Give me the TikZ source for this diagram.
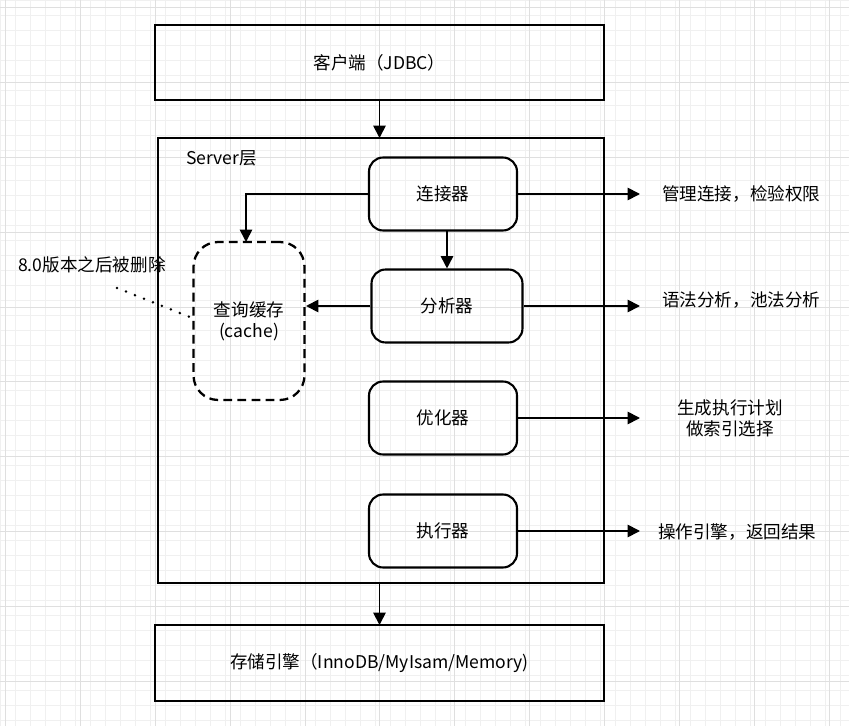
\documentclass[tikz,border=0pt]{standalone}
\usepackage{fontspec}
\setmainfont{Noto Sans CJK SC}
\usetikzlibrary{arrows.meta}
\begin{document}
\begin{tikzpicture}[x=0.02cm,y=-0.02cm,font=\fontsize{10}{12}\selectfont,
  stage/.style={draw,line width=1.2pt,rounded corners=8pt,inner sep=0pt},
  arr/.style={-{Triangle[length=7pt,width=7pt]},line width=1pt}]
  \useasboundingbox (0,0) rectangle (849,726);
  \draw[gray!12,line width=0.3pt] (0,0) grid[step=0.3cm] (849,726);
  \draw[gray!25,line width=0.5pt,shift={(5,7)}] (-5,-7) grid[step=1.5cm] (849,726);
  % outer boxes
  \draw[line width=1.6pt] (155,25) rectangle (604,100);
  \node (client) at (379.5,62.5) {客户端（JDBC）};
  \coordinate (clientS) at (379.5,100);
  \draw[line width=1.6pt] (158,138) rectangle (604,583);
  \coordinate (srvN) at (379.5,138);
  \coordinate (srvS) at (379.5,583);
  \node[anchor=west] (server) at (180,158) {Server层};
  \draw[line width=1.6pt] (155,625) rectangle (604,701);
  \node (engine) at (379.5,663) {存储引擎（InnoDB/MyIsam/Memory)};
  \coordinate (engN) at (379.5,625);
  \draw[arr] (clientS) -- (srvN);
  \draw[arr] (srvS) -- (engN);
  % stages
  \node[stage,minimum width=2.96cm,minimum height=1.46cm] (conn) at (443,194) {连接器};
  \node[stage,minimum width=3.02cm,minimum height=1.46cm] (parse) at (447,306) {分析器};
  \node[stage,minimum width=2.96cm,minimum height=1.46cm] (opt) at (443,418) {优化器};
  \node[stage,minimum width=2.96cm,minimum height=1.46cm] (exec) at (443,531) {执行器};
  \node[draw,line width=1.3pt,dash pattern=on 5pt off 3pt,rounded corners=14pt,
    minimum width=2.22cm,minimum height=3.16cm,align=center] (cache) at (249,321) {查询缓存\\(cache)};
  \draw[arr] (conn.west) -| (246,242);
  \draw[arr] (447,231) -- (parse.north -| 447,0);
  \draw[arr] (parse.west) -- (306,306);
  % right notes
  \node[anchor=west] (n1) at (656,194) {管理连接，检验权限};
  \node[anchor=west] (n2) at (656,300) {语法分析，池法分析};
  \node[align=center] (n3) at (730,418) {生成执行计划\\做索引选择};
  \node[anchor=west] (n4) at (652,532) {操作引擎，返回结果};
  \draw[arr] (conn.east) -- (640,194);
  \draw[arr] (parse.east) -- (640,306);
  \draw[arr] (opt.east) -- (640,418);
  \draw[arr] (exec.east) -- (640,531);
  % annotation
  \node[anchor=west] (note) at (12,265) {8.0版本之后被删除};
  \draw[line width=1.6pt,line cap=round,dash pattern=on 0pt off 5.5pt] (117,288) -- (cache.west |- 0,318);
\end{tikzpicture}
\end{document}
